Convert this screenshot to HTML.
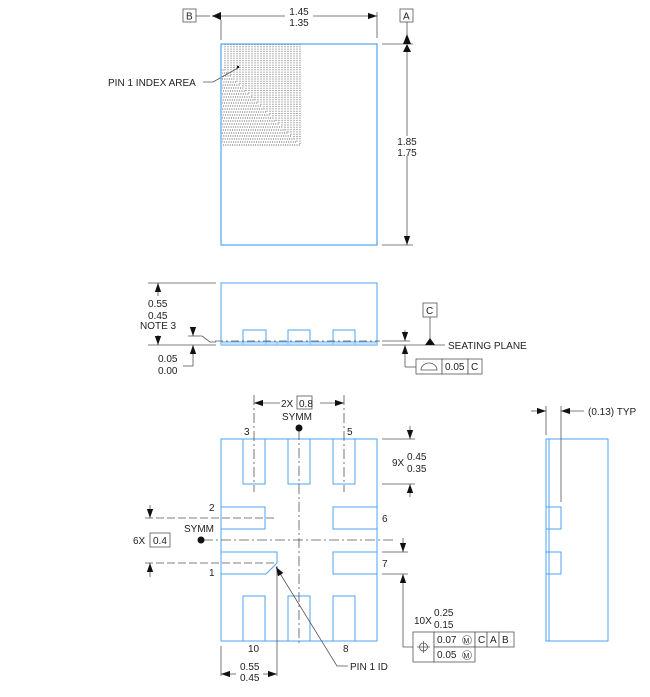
<!DOCTYPE html>
<html><head><meta charset="utf-8"><style>
body{margin:0;background:#fff;}
svg{display:block;font-family:"Liberation Sans",sans-serif;}
text{font-size:10px;fill:#222;}
</style></head><body>
<svg width="650" height="697" viewBox="0 0 650 697" xmlns="http://www.w3.org/2000/svg">
<defs>
<marker id="ar" viewBox="0 0 10 10" refX="10" refY="5" markerWidth="9" markerHeight="9" markerUnits="userSpaceOnUse" orient="auto-start-reverse"><path d="M0,1.5 L10,5 L0,8.5 z" fill="#111"/></marker>
</defs>
<g stroke="#555" stroke-width="0.8" fill="none">
<line x1="221" y1="20" x2="221" y2="40"/>
<line x1="377" y1="12" x2="377" y2="38"/>
<line x1="196" y1="16" x2="210" y2="16"/>
<line x1="212" y1="16" x2="285" y2="16" marker-start="url(#ar)"/>
<line x1="313" y1="16" x2="377" y2="16" marker-end="url(#ar)"/>
<line x1="382" y1="44" x2="413" y2="44"/>
<line x1="382" y1="245" x2="413" y2="245"/>
<line x1="407" y1="22" x2="407" y2="44"/>
<line x1="407" y1="52" x2="407" y2="136" />
<line x1="407" y1="156" x2="407" y2="245" marker-end="url(#ar)"/>
<path d="M203,82 L213,82 L238,68"/>
</g>
<path d="M212,16 l9,-4 v8z" fill="#111"/>
<path d="M407,34 l-4,10 h8z M407,44 l-4,8 h8z" fill="#111"/>
<rect x="183" y="9" width="13" height="13" fill="#fff" stroke="#555" stroke-width="0.8"/>
<text x="186" y="19.5">B</text>
<rect x="400" y="9" width="13" height="13" fill="#fff" stroke="#555" stroke-width="0.8"/>
<text x="403" y="19.5">A</text>
<text x="299" y="15" text-anchor="middle">1.45</text>
<text x="299" y="26" text-anchor="middle">1.35</text>
<text x="407" y="145" text-anchor="middle">1.85</text>
<text x="407" y="156" text-anchor="middle">1.75</text>
<text x="108" y="86">PIN 1 INDEX AREA</text>
<circle cx="238" cy="67" r="1.2" fill="#111"/>
<g stroke="#222" stroke-width="0.7" stroke-dasharray="1,1.3" fill="none">
<path d="M300,44V145H222"/><path d="M297,44V142H222"/><path d="M294,44V139H222"/><path d="M291,44V136H222"/>
<path d="M288,44V133H222"/><path d="M285,44V130H222"/><path d="M282,44V127H222"/><path d="M279,44V124H222"/>
<path d="M276,44V121H222"/><path d="M273,44V118H222"/><path d="M270,44V115H222"/><path d="M267,44V112H222"/>
<path d="M264,44V109H222"/><path d="M261,44V106H222"/><path d="M258,44V103H222"/><path d="M255,44V100H222"/>
<path d="M252,44V97H222"/><path d="M249,44V94H222"/><path d="M246,44V91H222"/><path d="M243,44V88H222"/>
<path d="M240,44V85H222"/><path d="M237,44V82H222"/><path d="M234,44V79H222"/><path d="M231,44V76H222"/>
<path d="M228,44V73H222"/><path d="M225,44V70H222"/>
</g>
<rect x="221" y="44" width="156" height="201" fill="none" stroke="#4da3f0" stroke-width="1.2"/>

<g stroke="#4da3f0" stroke-width="1" fill="none">
<rect x="221" y="283" width="156" height="62"/>
<rect x="243" y="330" width="23" height="15"/><rect x="288" y="330" width="22" height="15"/><rect x="333" y="330" width="22" height="15"/>
<line x1="221" y1="342" x2="377" y2="342"/>
<rect x="266" y="342" width="11" height="3"/>
</g>
<rect x="221" y="342" width="156" height="3" fill="#a9d2f7" opacity="0.6"/>
<g stroke="#555" stroke-width="0.8" fill="none">
<line x1="148" y1="283" x2="216" y2="283"/>
<line x1="148" y1="345" x2="216" y2="345"/>
<line x1="158" y1="283" x2="158" y2="296" marker-start="url(#ar)"/>
<line x1="158" y1="335" x2="158" y2="345" marker-end="url(#ar)"/>
<path d="M188,336 L202,336 L210,342 L216,342"/>
<line x1="193" y1="327" x2="193" y2="336" marker-end="url(#ar)"/>
<line x1="193" y1="345" x2="193" y2="366" marker-start="url(#ar)"/>
<line x1="183" y1="366" x2="193" y2="366"/>
<line x1="215" y1="341" x2="380" y2="341" stroke-dasharray="8,3,2,3"/>
<line x1="382" y1="341" x2="410" y2="341"/>
<line x1="382" y1="345" x2="445" y2="345"/>
<line x1="405" y1="330" x2="405" y2="341" marker-end="url(#ar)"/>
<line x1="405" y1="345" x2="405" y2="367" marker-start="url(#ar)"/>
<line x1="405" y1="367" x2="416" y2="367"/>
<line x1="430" y1="317" x2="430" y2="339"/>
</g>
<path d="M430,338 l-5,7 h10z" fill="#111"/>
<rect x="423" y="303" width="14" height="14" fill="#fff" stroke="#555" stroke-width="0.8"/>
<text x="426" y="314">C</text>
<text x="448" y="349">SEATING PLANE</text>
<text x="148" y="307">0.55</text><text x="148" y="319">0.45</text><text x="140" y="329">NOTE 3</text>
<text x="158" y="362">0.05</text><text x="158" y="374">0.00</text>
<g stroke="#555" stroke-width="0.8" fill="#fff">
<rect x="416" y="359" width="26" height="15"/><rect x="442" y="359" width="26" height="15"/><rect x="468" y="359" width="14" height="15"/>
<path d="M421,370 A8,7 0 0 1 437,370 Z" fill="none"/>
</g>
<text x="445" y="370">0.05</text><text x="471" y="370">C</text>

<g stroke="#4da3f0" stroke-width="1" fill="none">
<rect x="221" y="439" width="156" height="202"/>
<rect x="243" y="439" width="22" height="45"/><rect x="288" y="439" width="22" height="45"/><rect x="333" y="439" width="22" height="45"/>
<rect x="243" y="596" width="22" height="45"/><rect x="288" y="596" width="22" height="45"/><rect x="333" y="596" width="22" height="45"/>
<rect x="221" y="507" width="44" height="22"/>
<path d="M221,552 H277 V563 L266,574 H221"/>
<rect x="333" y="507" width="44" height="22"/><rect x="333" y="552" width="44" height="22"/>
</g>
<g stroke="#555" stroke-width="0.8" fill="none">
<line x1="299" y1="430" x2="299" y2="646" stroke-dasharray="10,3,2,3"/>
<line x1="203" y1="540" x2="395" y2="540" stroke-dasharray="10,3,2,3"/>
<line x1="254" y1="395" x2="254" y2="492" stroke-dasharray="10,3,2,3"/>
<line x1="344" y1="395" x2="344" y2="492" stroke-dasharray="10,3,2,3"/>
<line x1="254" y1="403" x2="280" y2="403" marker-start="url(#ar)"/>
<line x1="320" y1="403" x2="344" y2="403" marker-end="url(#ar)"/>
<line x1="145" y1="518" x2="275" y2="518" stroke-dasharray="8,3"/>
<line x1="145" y1="563" x2="275" y2="563" stroke-dasharray="8,3"/>
<line x1="150" y1="505" x2="150" y2="518" marker-end="url(#ar)"/>
<line x1="150" y1="563" x2="150" y2="577" marker-start="url(#ar)"/>
<line x1="382" y1="439" x2="415" y2="439"/>
<line x1="382" y1="484" x2="415" y2="484"/>
<line x1="410" y1="426" x2="410" y2="439" marker-end="url(#ar)"/>
<line x1="410" y1="484" x2="410" y2="497" marker-start="url(#ar)"/>
<line x1="382" y1="552" x2="408" y2="552"/>
<line x1="382" y1="574" x2="408" y2="574"/>
<line x1="403" y1="538" x2="403" y2="552" marker-end="url(#ar)"/>
<path d="M403,574 V647 H413" marker-start="url(#ar)"/>
<line x1="221" y1="646" x2="221" y2="676"/>
<line x1="277" y1="566" x2="277" y2="676"/>
<line x1="221" y1="674" x2="236" y2="674" marker-start="url(#ar)"/>
<line x1="263" y1="674" x2="277" y2="674" marker-end="url(#ar)"/>
<path d="M276,567 L337,666 L348,666" marker-start="url(#ar)"/>
</g>
<circle cx="299" cy="428" r="3.5" fill="#111"/>
<circle cx="201" cy="540" r="3.5" fill="#111"/>
<text x="282" y="420">SYMM</text>
<text x="184" y="532">SYMM</text>
<text x="281" y="407">2X</text>
<rect x="297" y="396" width="15" height="13" fill="#fff" stroke="#555" stroke-width="0.8"/>
<text x="299" y="407">0.8</text>
<text x="133" y="544">6X</text>
<rect x="150" y="533" width="20" height="14" fill="#fff" stroke="#555" stroke-width="0.8"/>
<text x="153" y="544">0.4</text>
<text x="244" y="435">3</text><text x="347" y="435">5</text>
<text x="209" y="511">2</text><text x="382" y="522">6</text>
<text x="209" y="576">1</text><text x="382" y="567">7</text>
<text x="248" y="652">10</text><text x="343" y="652">8</text>
<text x="240" y="670">0.55</text><text x="240" y="681">0.45</text>
<text x="350" y="670">PIN 1 ID</text>
<text x="392" y="466">9X</text><text x="407" y="460">0.45</text><text x="407" y="472">0.35</text>
<text x="414" y="624">10X</text><text x="434" y="616">0.25</text><text x="434" y="628">0.15</text>
<g stroke="#555" stroke-width="0.8" fill="#fff">
<rect x="413" y="632" width="21" height="30"/>
<rect x="434" y="632" width="41" height="15"/><rect x="475" y="632" width="12" height="15"/><rect x="487" y="632" width="12" height="15"/><rect x="499" y="632" width="15" height="15"/>
<rect x="434" y="647" width="41" height="15"/>
<circle cx="423.5" cy="647" r="4" fill="none"/>
<line x1="417" y1="647" x2="430" y2="647"/><line x1="423.5" y1="641" x2="423.5" y2="653"/>
<circle cx="467" cy="640" r="4.5" fill="none" stroke="#888"/>
<circle cx="467" cy="655" r="4.5" fill="none" stroke="#888"/>
</g>
<text x="437" y="643">0.07</text><text x="478" y="643">C</text><text x="490" y="643">A</text><text x="502" y="643">B</text>
<text x="437" y="658">0.05</text>
<text x="463.5" y="643" style="font-size:7px">M</text><text x="463.5" y="658" style="font-size:7px">M</text>

<g stroke="#4da3f0" stroke-width="1" fill="none">
<rect x="546" y="439" width="62" height="202"/>
<line x1="549" y1="439" x2="549" y2="641"/>
<rect x="546" y="507" width="15" height="22"/><rect x="546" y="552" width="15" height="22"/>
</g>
<g stroke="#555" stroke-width="0.8" fill="none">
<line x1="546" y1="406" x2="546" y2="435"/>
<line x1="561" y1="406" x2="561" y2="502"/>
<line x1="531" y1="411" x2="546" y2="411" marker-end="url(#ar)"/>
<line x1="584" y1="411" x2="561" y2="411" marker-end="url(#ar)"/>
</g>
<text x="588" y="415">(0.13) TYP</text>
</svg>
</body></html>
